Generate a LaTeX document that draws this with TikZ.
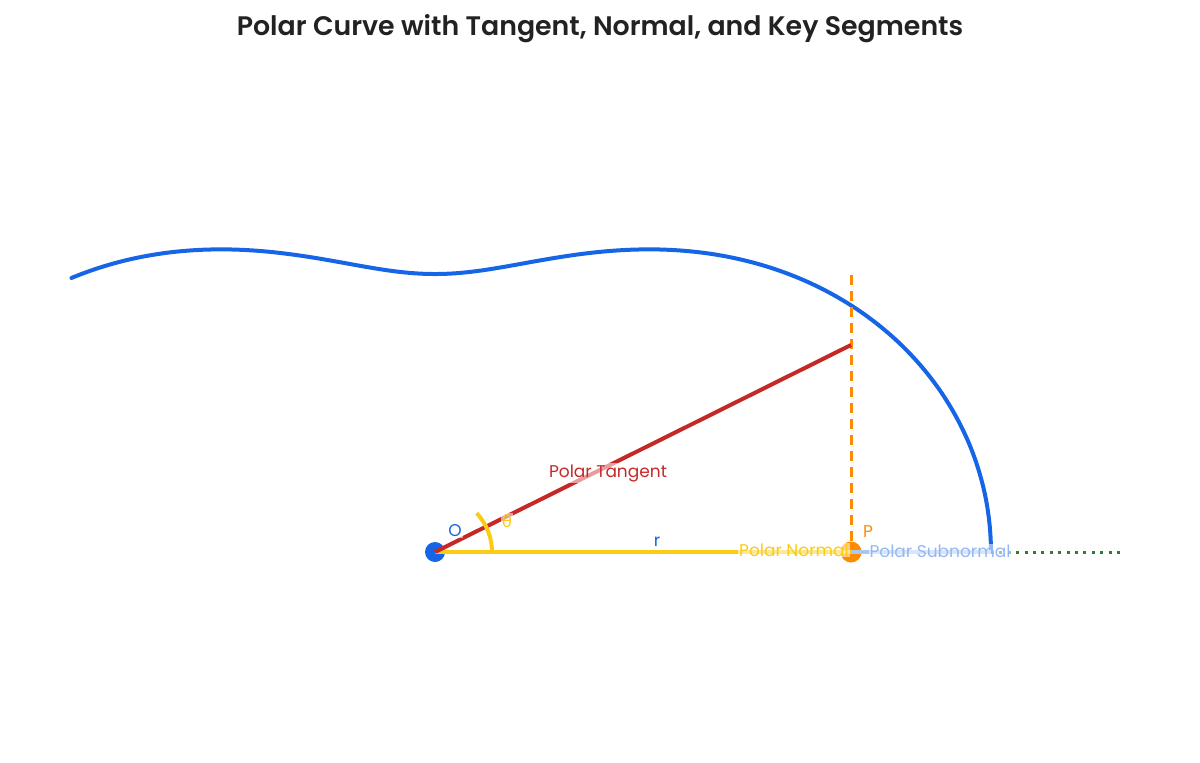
\documentclass[tikz,border=0pt]{standalone}
\usepackage{fontspec}
\setmainfont{Poppins}
\newfontfamily\titlefont{Poppins SemiBold}
\newfontfamily\greekfont{Noto Sans}
\usetikzlibrary{calc,positioning}
\definecolor{curveblue}{HTML}{1565E6}
\definecolor{tanred}{HTML}{C62828}
\definecolor{normyellow}{HTML}{FACC15}
\definecolor{vertorange}{HTML}{FF8C00}
\definecolor{subblue}{HTML}{A9C7F5}
\definecolor{dotgreen}{HTML}{2E7D32}
\definecolor{titlegray}{HTML}{222222}

\begin{document}
\begin{tikzpicture}[x=1pt,y=-1pt,every path/.style={line width=4pt},
  lbl/.style={fill=white,fill opacity=0.55,text opacity=1,inner sep=1pt,font=\fontsize{17}{17}\selectfont}]
  \useasboundingbox (0,0) rectangle (1200,763);
  \node[text=titlegray] (title) at (600,29) {\fontsize{26.8}{26.8}\titlefont Polar Curve with Tangent, Normal, and Key Segments};

  \node (O) at (435,552)[circle,fill=curveblue,inner sep=0pt,minimum size=20pt]{};
  \node (P) at (851,552)[circle,fill=vertorange,inner sep=0pt,minimum size=21pt]{};
  \coordinate (T) at (851,345);
  \coordinate (N) at (851,275);
  \coordinate (S) at (991,552);
  \coordinate (G) at (1125,552);

  % r = 1 + cos^2(theta), 278pt per unit
  \draw[curveblue,line cap=round,shift={(O.center)}] plot[domain=0:143,samples=120,smooth]
    ({278*(1+cos(\x)^2)*cos(\x)},{-278*(1+cos(\x)^2)*sin(\x)});

  \draw[vertorange,line width=3pt,dash pattern=on 10pt off 6pt] (N) -- (P.center);
  \draw[normyellow] (O.center) -- (P.center);
  \draw[tanred] (O.center) -- (T);
  \draw[subblue] (P.center) -- (S);
  \draw[dotgreen,line width=3pt,dash pattern=on 3pt off 5.4pt] (S) -- (G);
  \draw[normyellow] ($(O.center)+(57,0)$) arc[start angle=0,end angle=-43,radius=57];

  \node[lbl,text=tanred] (tanlbl) at (608,473) {Polar Tangent};
  \node[lbl,text=curveblue] (olbl) at (455,531) {O};
  \node[lbl,text=normyellow] (thlbl) at (507,521) {\greekfont θ};
  \node[lbl,text=curveblue] (rlbl) at (657,542) {r};
  \node[lbl,text=normyellow] (nlbl) at (794,550) {Polar Normal};
  \node[lbl,text=vertorange] (plbl) at (868,532) {P};
  \node[lbl,text=subblue!85!curveblue] (slbl) at (940,551) {Polar Subnormal};
\end{tikzpicture}
\end{document}
